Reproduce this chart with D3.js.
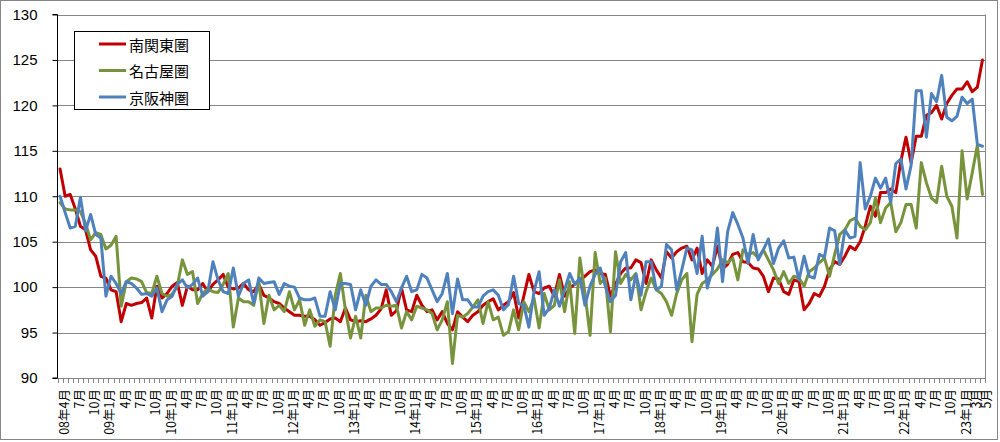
<!DOCTYPE html>
<html><head><meta charset="utf-8">
<script src="https://cdn.jsdelivr.net/npm/d3@7/dist/d3.min.js"></script>
<style>
html,body{margin:0;padding:0;background:#fff;}
svg{display:block;}
</style>
</head><body>
<svg id="chart" width="1000" height="442"></svg>
<script>
// ---- data ----
const startYear = 2008, startMonth = 4, monthCount = 182;
const categories = [];
for (let k = 0; k < monthCount; k++) {
  const m = (startMonth - 1 + k) % 12 + 1, yr = startYear + Math.floor((startMonth - 1 + k) / 12);
  categories.push(yr + "-" + String(m).padStart(2, "0"));
}
const seriesNames = ["南関東圏", "名古屋圏", "京阪神圏"];
const minami = [113.0,110.0,110.2,108.6,106.7,106.3,104.1,103.4,101.2,
101.0,99.7,99.5,96.2,98.2,98.0,98.2,98.3,98.8,96.6,100.1,98.8,
99.3,100.1,100.5,98.0,100.1,99.7,99.7,100.4,99.5,100.3,100.8,101.4,
100.0,99.8,99.9,100.4,99.7,99.5,100.3,99.1,98.8,98.4,98.2,97.7,
97.3,96.9,96.9,96.8,96.8,96.4,95.8,96.1,96.5,96.6,96.2,97.7,
96.4,96.2,96.3,96.2,96.5,96.9,97.6,99.7,96.9,97.4,99.9,97.5,
97.3,99.1,98.0,97.3,97.5,96.4,97.3,96.0,95.3,97.3,96.7,96.2,
96.9,97.3,98.0,98.4,98.7,97.5,98.0,98.4,99.4,96.6,99.0,101.4,
99.5,99.3,99.9,100.1,99.0,101.4,99.0,99.9,100.3,100.8,101.2,101.7,
101.9,101.5,101.4,99.0,100.3,101.5,102.1,102.1,103.0,102.7,100.4,103.0,
101.9,101.0,103.9,103.2,103.9,104.3,104.5,103.0,104.3,101.5,103.0,102.3,
104.5,102.0,102.5,103.6,103.8,102.8,102.7,102.1,102.0,101.2,99.5,101.0,
100.9,99.5,99.2,100.8,100.6,97.5,98.2,99.3,99.0,100.1,101.9,102.8,
102.5,103.4,104.5,104.1,105.0,106.7,108.9,107.8,110.4,110.4,110.8,110.4,
113.9,116.5,113.7,116.6,116.6,118.9,119.2,120.0,118.5,120.2,121.1,121.8,
121.8,122.6,121.5,122.0,125.0];
const nagoya = [109.3,108.6,108.5,108.5,108.3,107.0,105.2,106.0,105.8,
104.2,104.6,105.6,97.9,100.6,101.0,100.9,100.6,99.4,99.3,101.2,99.3,
99.0,99.2,100.1,103.0,101.4,101.7,98.2,99.3,99.8,99.5,99.4,100.3,
101.5,95.6,98.8,98.4,98.4,98.0,100.6,96.0,99.1,97.5,98.0,97.3,
99.5,97.5,98.6,95.8,97.5,95.7,96.4,96.2,93.5,99.1,101.5,97.5,
94.4,96.8,94.4,99.1,97.3,97.7,97.7,98.0,97.9,98.0,95.5,97.3,
96.4,97.9,97.7,97.5,97.1,95.3,96.4,98.4,91.6,96.9,96.7,97.1,
97.8,98.6,96.0,98.4,96.4,96.7,94.7,95.1,97.5,95.3,98.4,97.3,
98.8,95.5,99.3,97.5,98.0,100.8,97.3,100.6,94.9,103.2,99.3,94.7,
103.8,100.4,101.0,95.1,103.9,100.4,101.4,100.8,101.5,97.5,99.5,101.0,
99.7,99.3,98.4,96.9,99.3,100.8,101.5,94.0,99.2,100.4,100.8,101.4,
102.0,103.0,102.7,103.2,100.8,104.1,103.6,103.8,103.2,104.1,103.0,101.9,
100.4,101.7,100.4,101.2,101.0,100.1,101.7,102.1,102.7,103.2,101.2,103.6,
105.8,106.3,107.3,107.6,106.7,106.3,107.1,109.8,107.1,108.7,109.3,106.1,
107.1,109.1,109.1,106.5,113.7,111.5,109.8,109.3,113.3,110.0,108.9,105.4,
115.0,109.7,112.6,115.6,110.2];
const keihanshin = [110.0,108.2,106.5,106.7,109.9,106.2,108.0,105.8,105.4,
99.0,101.2,100.4,99.3,100.6,100.4,99.9,99.2,99.3,99.0,99.9,97.3,
98.6,99.0,100.3,100.8,99.9,100.3,101.0,99.0,99.5,102.8,100.8,99.5,
99.3,102.1,99.0,100.4,100.8,98.2,101.0,100.4,100.5,100.6,99.2,100.4,
100.1,100.0,98.8,98.6,98.6,98.8,96.8,96.8,99.5,97.5,100.4,100.4,
100.3,97.5,99.7,98.0,100.1,100.8,100.3,100.3,99.5,98.4,99.9,101.2,
99.5,99.7,101.4,101.0,99.7,98.4,99.3,101.5,97.1,100.9,98.6,98.6,
97.8,97.8,99.0,99.5,99.7,99.1,97.5,98.1,101.2,98.2,98.0,95.6,
99.5,101.7,96.9,97.7,99.7,97.9,99.7,101.5,100.3,101.0,98.0,100.1,
101.4,102.1,100.1,98.4,99.1,102.8,103.8,98.6,101.4,99.1,102.8,102.8,
99.7,100.1,104.7,104.1,99.7,101.9,104.3,104.1,101.5,105.6,99.9,101.9,
106.5,100.6,106.1,108.2,106.9,105.4,102.6,105.8,103.0,104.1,105.3,102.6,
104.3,105.1,103.2,103.3,100.8,103.4,101.2,101.0,103.6,103.3,106.5,106.2,
102.5,106.3,105.4,105.6,113.7,108.6,110.0,112.0,110.9,112.0,109.3,113.6,
114.1,110.8,113.4,121.6,121.6,116.5,121.3,120.4,123.3,118.7,118.3,118.8,
120.9,120.2,120.7,115.7,115.5];
const yTicks = [90, 95, 100, 105, 110, 115, 120, 125, 130];
const tickLabels = ["08年4月","7月","10月",
"09年1月","4月","7月","10月","10年1月","4月","7月","10月",
"11年1月","4月","7月","10月","12年1月","4月","7月","10月",
"13年1月","4月","7月","10月","14年1月","4月","7月","10月",
"15年1月","4月","7月","10月","16年1月","4月","7月","10月",
"17年1月","4月","7月","10月","18年1月","4月","7月","10月",
"19年1月","4月","7月","10月","20年1月","4月","7月","10月",
"21年1月","4月","7月","10月","22年1月","4月","7月","10月",
"23年1月","3月","5月"];
const tickCats = categories.filter((c, i) => i % 3 === 0 && i <= 177).concat(["2023-03", "2023-05"]);

// ---- chart ----
const svg = d3.select("#chart");
const L = 57.5, R = 985, T = 14.5, B = 378;
const x = d3.scaleBand().domain(categories).range([L, R]);
const y = d3.scaleLinear().domain([90, 130]).range([B, T]);
const cx = c => x(c) + x.bandwidth() / 2;
const jp = "'Noto Sans CJK JP', 'Noto Sans', sans-serif";

// outer border
svg.append("rect").attr("x", 0.5).attr("y", 0.5).attr("width", 997).attr("height", 439)
  .attr("fill", "#fff").attr("stroke", "#868686");

// gridlines
svg.append("g").selectAll("line").data(yTicks.filter(v => v > 90)).join("line")
  .attr("x1", L).attr("x2", R)
  .attr("y1", d => Math.round(y(d)) + 0.5).attr("y2", d => Math.round(y(d)) + 0.5)
  .attr("stroke", "#868686").attr("stroke-width", 1);

// right border of plot
svg.append("line").attr("x1", R + 0.5).attr("x2", R + 0.5).attr("y1", T).attr("y2", B)
  .attr("stroke", "#868686");

// x axis
const xAxisG = svg.append("g").attr("transform", `translate(0,${B})`);
xAxisG.append("line").attr("x1", L).attr("x2", R).attr("y1", 0.5).attr("y2", 0.5).attr("stroke", "#868686");
const bounds = categories.map(c => x(c)).concat([R]);
xAxisG.selectAll("line.tk").data(bounds).join("line").attr("class", "tk")
  .attr("x1", d => Math.round(d) + 0.5).attr("x2", d => Math.round(d) + 0.5)
  .attr("y1", 0).attr("y2", 5).attr("stroke", "#868686");
xAxisG.selectAll("text").data(tickCats).join("text")
  .attr("transform", (d) => `translate(${cx(d) + 3},${11}) rotate(-90)`)
  .attr("text-anchor", "end").attr("dominant-baseline", "central")
  .attr("font-family", jp).attr("font-size", 12.5).attr("fill", "#000")
  .text((d, i) => tickLabels[i]);

// y axis
const yAxis = d3.axisLeft(y).tickValues(yTicks).tickSize(5).tickPadding(15).tickFormat(d3.format("d"));
const yG = svg.append("g").attr("transform", `translate(${L},0)`).call(yAxis);
yG.select(".domain").attr("stroke", "#000").attr("d", `M-5,${T}H0V${B}H-5`);
yG.selectAll(".tick line").attr("stroke", "#000");
yG.selectAll(".tick text").attr("font-family", "'Liberation Sans', Arial, sans-serif")
  .attr("font-size", 15).attr("fill", "#000");

// lines
const series = [
  { name: seriesNames[0], values: minami, color: "#C00000" },
  { name: seriesNames[1], values: nagoya, color: "#77933C" },
  { name: seriesNames[2], values: keihanshin, color: "#4F81BD" }
];
const line = d3.line().x((d, i) => cx(categories[i])).y(d => y(d));
svg.append("g").selectAll("path").data(series).join("path")
  .attr("d", d => line(d.values)).attr("fill", "none")
  .attr("stroke", d => d.color).attr("stroke-width", 3)
  .attr("stroke-linejoin", "round").attr("stroke-linecap", "round");

// legend
const lg = svg.append("g");
lg.append("rect").attr("x", 74.5).attr("y", 31.5).attr("width", 135).attr("height", 78)
  .attr("fill", "#fff").attr("stroke", "#000");
const rows = lg.selectAll("g").data(series).join("g")
  .attr("transform", (d, i) => `translate(0,${44 + i * 26.5})`);
rows.append("line").attr("x1", 99).attr("x2", 126).attr("y1", 0).attr("y2", 0)
  .attr("stroke", d => d.color).attr("stroke-width", 3);
rows.append("text").attr("x", 129).attr("y", 0).attr("dominant-baseline", "central")
  .attr("font-family", jp).attr("font-size", 15).attr("fill", "#000").text(d => d.name);
</script>
</body></html>
